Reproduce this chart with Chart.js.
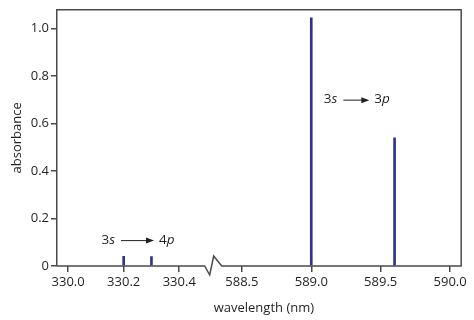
<!DOCTYPE html>
<html>
<head>
<meta charset="utf-8">
<script src="https://cdn.jsdelivr.net/npm/chart.js@4.4.1/dist/chart.umd.min.js"></script>
<style>
  html, body { margin: 0; padding: 0; background: #fff; }
</style>
</head>
<body>
<canvas id="spectrum" width="474" height="320"></canvas>
<script>
// sodium absorption lines: wavelength (nm) and absorbance
const uvLines = [330.2, 330.3];
const uvAbsorbance = [0.041, 0.040];
const visLines = [589.0, 589.6];
const visAbsorbance = [1.044, 0.539];

// tick labels
const uvTicks = [330.0, 330.2, 330.4];
const visTicks = [588.5, 589.0, 589.5, 590.0];
const absorbanceTicks = [0, 0.2, 0.4, 0.6, 0.8, 1.0];

// transition labels: [lower state, orbital, upper state, orbital]
const uvTransition = ['3', 's', '4', 'p'];
const visTransition = ['3', 's', '3', 'p'];

const lineColor = '#2e3192';
const axisColor = '#4a4a4a';
const textColor = '#231f20';
const fontFamily = '"Open Sans", Lato, sans-serif';

// draws the box round the plot, the axis break and the transition labels
const framePlugin = {
    id: 'frame',
    afterDraw(chart) {
        const { ctx, chartArea: a } = chart;
        const cut = chart.scales.xa.right;

        ctx.save();
        ctx.strokeStyle = axisColor;
        ctx.lineWidth = 1.5;
        ctx.beginPath();
        ctx.moveTo(a.left, a.top);
        ctx.lineTo(a.right, a.top);
        ctx.lineTo(a.right, a.bottom);
        ctx.lineTo(cut + 8, a.bottom);
        ctx.lineTo(cut, a.bottom - 10);
        ctx.lineTo(cut - 4, a.bottom + 9);
        ctx.lineTo(cut - 9, a.bottom);
        ctx.lineTo(a.left, a.bottom);
        ctx.stroke();
        ctx.restore();

        drawTransition(chart, 'xa', 330.12, 0.109, uvTransition, 33);
        drawTransition(chart, 'xb', 589.09, 0.70, visTransition, 26);
    }
};

function drawTransition(chart, axisId, xValue, yValue, parts, arrowLen) {
    const ctx = chart.ctx;
    let x = chart.scales[axisId].getPixelForValue(xValue);
    const y = chart.scales.y.getPixelForValue(yValue);
    const upright = '13.5px ' + fontFamily;
    const italic = 'italic 13.5px ' + fontFamily;

    ctx.save();
    ctx.fillStyle = textColor;
    ctx.strokeStyle = textColor;
    ctx.textBaseline = 'middle';
    ctx.textAlign = 'left';

    function put(text, font) {
        ctx.font = font;
        ctx.fillText(text, x, y);
        x += ctx.measureText(text).width;
    }

    put(parts[0], upright);
    put(parts[1], italic);
    x += 6;
    // arrow
    ctx.lineWidth = 1;
    ctx.beginPath();
    ctx.moveTo(x, y + 0.5);
    ctx.lineTo(x + arrowLen - 6, y + 0.5);
    ctx.stroke();
    ctx.beginPath();
    ctx.moveTo(x + arrowLen, y + 0.5);
    ctx.lineTo(x + arrowLen - 8, y - 2.5);
    ctx.lineTo(x + arrowLen - 8, y + 3.5);
    ctx.closePath();
    ctx.fill();
    x += arrowLen + 5;
    put(parts[2], upright);
    put(parts[3], italic);
    ctx.restore();
}

function xAxis(min, max, ticks, weight, title) {
    return {
        type: 'linear',
        position: 'bottom',
        stack: 'wavelength',
        stackWeight: weight,
        min: min,
        max: max,
        offset: false,
        afterBuildTicks: scale => {
            scale.ticks = ticks.map(v => ({ value: v }));
        },
        afterFit: scale => {
            scale.height = 54;
        },
        grid: {
            offset: false,
            drawOnChartArea: false,
            drawTicks: true,
            tickLength: 6,
            color: axisColor,
            lineWidth: 1.5
        },
        border: { display: false },
        ticks: {
            color: textColor,
            padding: 2,
            maxRotation: 0,
            autoSkip: false,
            font: { family: fontFamily, size: 13 },
            callback: v => v.toFixed(1)
        },
        title: {
            display: title !== '',
            text: title,
            align: 'start',
            color: textColor,
            padding: { top: 4, bottom: 4 },
            font: { family: fontFamily, size: 13 }
        }
    };
}

const chart = new Chart(document.getElementById('spectrum'), {
    type: 'bar',
    data: {
        datasets: [
            {
                label: '3s to 4p',
                xAxisID: 'xa',
                data: uvLines.map((w, i) => ({ x: w, y: uvAbsorbance[i] })),
                backgroundColor: lineColor,
                barThickness: 2,
                grouped: false
            },
            {
                label: '3s to 3p',
                xAxisID: 'xb',
                data: visLines.map((w, i) => ({ x: w, y: visAbsorbance[i] })),
                backgroundColor: lineColor,
                barThickness: 2,
                grouped: false
            }
        ]
    },
    options: {
        responsive: false,
        animation: false,
        layout: { padding: { top: 5, right: 12, bottom: 0, left: 0 } },
        plugins: {
            legend: { display: false },
            tooltip: { enabled: false }
        },
        scales: {
            xa: xAxis(329.96, 330.524, uvTicks, 157, ''),
            xb: xAxis(588.297, 590.08, visTicks, 248, 'wavelength (nm)'),
            y: {
                min: 0,
                max: 1.078,
                afterBuildTicks: scale => {
                    scale.ticks = absorbanceTicks.map(v => ({ value: v }));
                },
                afterFit: scale => {
                    scale.width = 57;
                },
                grid: {
                    drawOnChartArea: false,
                    drawTicks: true,
                    tickLength: 6,
                    color: axisColor,
                    lineWidth: 1.5
                },
                border: { display: true, color: axisColor, width: 1.5 },
                ticks: {
                    color: textColor,
                    padding: 2,
                    font: { family: fontFamily, size: 13 },
                    callback: v => (v === 0 ? '0' : v.toFixed(1))
                },
                title: {
                    display: true,
                    text: 'absorbance',
                    color: textColor,
                    padding: { top: 9, bottom: 0 },
                    font: { family: fontFamily, size: 13 }
                }
            }
        }
    },
    plugins: [framePlugin]
});
</script>
</body>
</html>
